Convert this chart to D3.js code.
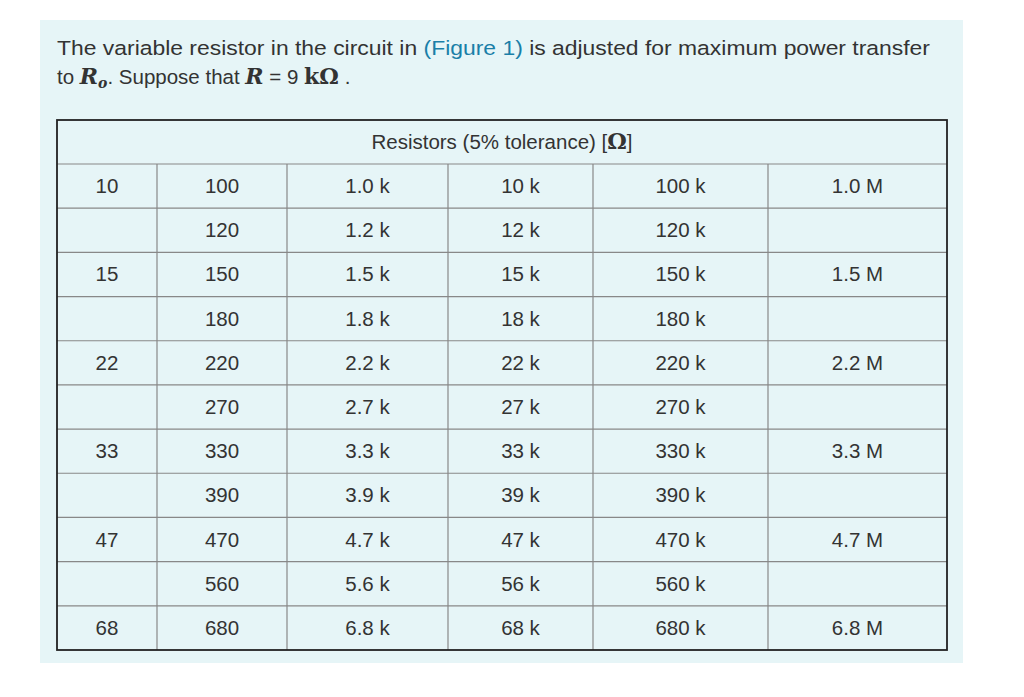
<!DOCTYPE html>
<html><head><meta charset="utf-8">
<script src="https://cdn.jsdelivr.net/npm/d3@7"></script>
<style>body{margin:0;background:#fff}</style>
</head><body>
<svg id="c" width="1024" height="697"></svg>
<script>
// resistor values, one array per column
var col1 = ["10", "", "15", "", "22", "", "33", "", "47", "", "68"];
var col2 = ["100", "120", "150", "180", "220", "270", "330", "390", "470", "560", "680"];
var col3 = ["1.0 k", "1.2 k", "1.5 k", "1.8 k", "2.2 k", "2.7 k", "3.3 k", "3.9 k", "4.7 k", "5.6 k", "6.8 k"];
var col4 = ["10 k", "12 k", "15 k", "18 k", "22 k", "27 k", "33 k", "39 k", "47 k", "56 k", "68 k"];
var col5 = ["100 k", "120 k", "150 k", "180 k", "220 k", "270 k", "330 k", "390 k", "470 k", "560 k", "680 k"];
var col6 = ["1.0 M", "", "1.5 M", "", "2.2 M", "", "3.3 M", "", "4.7 M", "", "6.8 M"];
var columns = [col1, col2, col3, col4, col5, col6];
var colEdges = [57, 157, 287, 448, 593, 768, 947];

var svg = d3.select("#c");
var font = "'Liberation Sans', Arial, sans-serif";
var serif = "'DejaVu Serif', serif";
svg.append("rect").attr("x", 40).attr("y", 20).attr("width", 923).attr("height", 643).attr("fill", "#e6f5f7");

// title
var t1 = svg.append("text").attr("x", 57).attr("y", 55).attr("font-family", font).attr("font-size", 20.5).attr("fill", "#333")
  .attr("textLength", 873).attr("lengthAdjust", "spacingAndGlyphs");
t1.append("tspan").text("The variable resistor in the circuit in ");
t1.append("tspan").attr("fill", "#1a7fa8").text("(Figure 1)");
t1.append("tspan").text(" is adjusted for maximum power transfer");
var t2 = svg.append("text").attr("x", 57).attr("y", 84).attr("font-family", font).attr("font-size", 20.5).attr("fill", "#333");
t2.append("tspan").text("to ");
t2.append("tspan").attr("font-family", serif).attr("font-style", "italic").attr("font-weight", "bold").attr("font-size", 22).text("R");
t2.append("tspan").attr("font-family", serif).attr("font-style", "italic").attr("font-weight", "bold").attr("font-size", 14).attr("dy", 4).text("o");
t2.append("tspan").attr("dy", -4).text(". Suppose that ");
t2.append("tspan").attr("font-family", serif).attr("font-style", "italic").attr("font-weight", "bold").attr("font-size", 22).text("R");
t2.append("tspan").text(" = 9 ");
t2.append("tspan").attr("font-family", serif).attr("font-weight", "bold").attr("font-size", 22).text(" k\u03A9");
t2.append("tspan").text(" .");

var nRows = col2.length;
var y = d3.scaleBand().domain(d3.range(nRows)).range([164, 650]);
var tableTop = 120;

// header
var h = svg.append("text").attr("x", (colEdges[0] + colEdges[6]) / 2).attr("y", 149).attr("text-anchor", "middle")
  .attr("font-family", font).attr("font-size", 20.5).attr("fill", "#333");
h.append("tspan").text("Resistors (5% tolerance) [");
h.append("tspan").attr("font-family", serif).attr("font-weight", "bold").attr("font-size", 22).text("\u03A9");
h.append("tspan").text("]");

// grid lines
var g = svg.append("g").attr("stroke", "#888").attr("stroke-width", 1.2);
d3.range(nRows).forEach(function (i) {
  g.append("line").attr("x1", colEdges[0]).attr("x2", colEdges[6]).attr("y1", y(i)).attr("y2", y(i));
});
colEdges.slice(1, -1).forEach(function (x) {
  g.append("line").attr("x1", x).attr("x2", x).attr("y1", 164).attr("y2", 650);
});
svg.append("rect").attr("x", colEdges[0]).attr("y", tableTop).attr("width", colEdges[6] - colEdges[0]).attr("height", 650 - tableTop)
  .attr("fill", "none").attr("stroke", "#222").attr("stroke-width", 1.8);

// cells
columns.forEach(function (col, c) {
  var cx = (colEdges[c] + colEdges[c + 1]) / 2;
  svg.append("g").selectAll("text").data(col).join("text")
    .attr("x", cx).attr("y", function (d, i) { return y(i) + y.bandwidth() / 2 + 7; })
    .attr("text-anchor", "middle").attr("font-family", font).attr("font-size", 20.5).attr("fill", "#333")
    .text(function (d) { return d; });
});
</script>
</body></html>
